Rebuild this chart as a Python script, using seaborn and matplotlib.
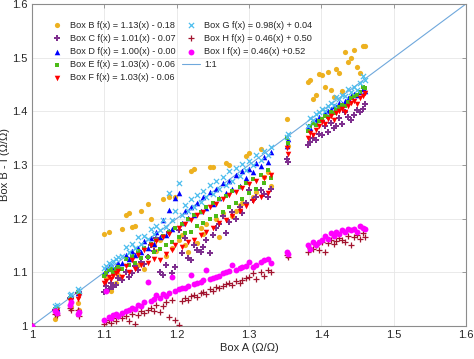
import pandas as pd
import matplotlib
matplotlib.use("Agg")
import matplotlib.pyplot as plt
import seaborn as sns

# Box A values (shared x for every box)
box_a = [
    1.000,
    1.032, 1.034,
    1.052, 1.054,
    1.063, 1.065,
    1.100, 1.103, 1.106, 1.109, 1.112, 1.116, 1.119,
    1.125, 1.130, 1.134, 1.138, 1.142, 1.147, 1.151, 1.155, 1.160, 1.164,
    1.168, 1.172, 1.177, 1.181, 1.185, 1.190, 1.194, 1.198,
    1.203, 1.207, 1.211, 1.216, 1.220, 1.224, 1.228, 1.233, 1.237, 1.241,
    1.246, 1.250, 1.255, 1.259, 1.264, 1.268, 1.273, 1.277, 1.282, 1.287,
    1.291, 1.296, 1.300,
    1.305, 1.310, 1.316, 1.321, 1.326, 1.331,
    1.352, 1.354,
    1.381, 1.384, 1.388, 1.392, 1.397, 1.401, 1.405, 1.409, 1.413, 1.417,
    1.421, 1.425, 1.429, 1.433, 1.437, 1.441, 1.445, 1.449, 1.453, 1.457, 1.460,
]

box_b = [
    1.000,
    1.013, 1.022,
    1.040, 1.036,
    1.043, 1.030,
    1.172, 1.090, 1.175, 1.066, 1.100, 1.080, 1.095,
    1.180, 1.207, 1.210, 1.185, 1.187, 1.114, 1.215, 1.106, 1.228, 1.200,
    1.150, 1.140, 1.160, 1.237, 1.130, 1.240, 1.145, 1.240,
    1.160, 1.170, 1.150, 1.138, 1.288, 1.293, 1.155, 1.182, 1.172, 1.190,
    1.297, 1.297, 1.200, 1.165, 1.210, 1.304, 1.300, 1.205, 1.215, 1.225,
    1.230, 1.316, 1.323,
    1.240, 1.250, 1.330, 1.278, 1.286, 1.260,
    1.385, 1.335,
    1.454, 1.459, 1.422, 1.430, 1.470, 1.467, 1.446, 1.474, 1.440, 1.426,
    1.478, 1.472, 1.437, 1.510, 1.491, 1.500, 1.514, 1.482, 1.472, 1.521, 1.521,
]

box_c = [
    1.000,
    1.030, 1.028,
    1.052, 1.054,
    1.062, 1.064,
    1.064, 1.074, 1.068, 1.080, 1.072, 1.077, 1.090,
    1.086, 1.100, 1.092, 1.098, 1.112, 1.104, 1.120, 1.116, 1.128, 1.151,
    1.140, 1.164, 1.100, 1.095, 1.114, 1.176, 1.099, 1.110,
    1.179, 1.136, 1.164, 1.127, 1.123, 1.150, 1.142, 1.138, 1.148, 1.160,
    1.136, 1.170, 1.182, 1.190, 1.204, 1.174, 1.194, 1.213, 1.200, 1.222,
    1.210, 1.230, 1.254,
    1.235, 1.241, 1.254, 1.246, 1.241, 1.256,
    1.312, 1.305,
    1.338, 1.342, 1.350, 1.346, 1.358, 1.355, 1.372, 1.362, 1.379, 1.368,
    1.372, 1.388, 1.376, 1.398, 1.390, 1.384, 1.394, 1.403, 1.398, 1.405, 1.413,
]

box_d = [
    1.000,
    1.036, 1.034,
    1.057, 1.055,
    1.062, 1.064,
    1.098, 1.104, 1.110, 1.114, 1.106, 1.112, 1.118,
    1.118, 1.132, 1.124, 1.140, 1.133, 1.145, 1.138, 1.158, 1.146, 1.163,
    1.152, 1.175, 1.166, 1.198, 1.170, 1.217, 1.181, 1.239,
    1.248, 1.192, 1.214, 1.201, 1.222, 1.206, 1.230, 1.215, 1.241, 1.219,
    1.249, 1.228, 1.256, 1.238, 1.266, 1.247, 1.270, 1.256, 1.282, 1.261,
    1.288, 1.276, 1.293,
    1.286, 1.304, 1.298, 1.314, 1.305, 1.324,
    1.336, 1.349,
    1.372, 1.368, 1.380, 1.384, 1.390, 1.385, 1.396, 1.400, 1.404, 1.410,
    1.408, 1.416, 1.414, 1.420, 1.424, 1.428, 1.432, 1.430, 1.436, 1.441, 1.438,
]

box_e = [
    1.000,
    1.032, 1.034,
    1.052, 1.050,
    1.064, 1.062,
    1.094, 1.098, 1.104, 1.108, 1.101, 1.106, 1.110,
    1.106, 1.124, 1.114, 1.130, 1.117, 1.139, 1.126, 1.145, 1.128, 1.153,
    1.137, 1.160, 1.144, 1.167, 1.151, 1.175, 1.156, 1.183,
    1.165, 1.190, 1.173, 1.199, 1.176, 1.207, 1.186, 1.213, 1.191, 1.222,
    1.200, 1.229, 1.205, 1.237, 1.213, 1.243, 1.221, 1.251, 1.229, 1.259,
    1.237, 1.266, 1.247,
    1.274, 1.256, 1.282, 1.266, 1.290, 1.276,
    1.350, 1.340,
    1.364, 1.372, 1.378, 1.374, 1.382, 1.386, 1.392, 1.390, 1.398, 1.396,
    1.404, 1.408, 1.412, 1.410, 1.418, 1.425, 1.428, 1.430, 1.436, 1.446, 1.444,
]

box_f = [
    1.000,
    1.028, 1.030,
    1.046, 1.048,
    1.050, 1.056,
    1.080, 1.084, 1.091, 1.088, 1.094, 1.098, 1.102,
    1.092, 1.112, 1.100, 1.122, 1.107, 1.133, 1.113, 1.142, 1.118, 1.150,
    1.125, 1.158, 1.123, 1.166, 1.134, 1.172, 1.141, 1.150,
    1.182, 1.148, 1.190, 1.157, 1.198, 1.161, 1.206, 1.169, 1.213, 1.176,
    1.221, 1.183, 1.228, 1.191, 1.236, 1.198, 1.244, 1.205, 1.250, 1.215,
    1.258, 1.224, 1.264,
    1.232, 1.270, 1.240, 1.276, 1.248, 1.282,
    1.331, 1.320,
    1.350, 1.360, 1.356, 1.366, 1.372, 1.380, 1.376, 1.386, 1.392, 1.384,
    1.396, 1.400, 1.404, 1.398, 1.410, 1.416, 1.420, 1.414, 1.424, 1.428, 1.435,
]

box_g = [
    1.000,
    1.038, 1.040,
    1.058, 1.060,
    1.068, 1.066,
    1.108, 1.112, 1.118, 1.114, 1.121, 1.124, 1.128,
    1.131, 1.148, 1.138, 1.152, 1.146, 1.165, 1.153, 1.168, 1.162, 1.180,
    1.171, 1.186, 1.178, 1.197, 1.185, 1.248, 1.198, 1.214,
    1.267, 1.206, 1.226, 1.214, 1.236, 1.222, 1.244, 1.231, 1.252, 1.240,
    1.262, 1.246, 1.270, 1.256, 1.278, 1.263, 1.288, 1.270, 1.294, 1.280,
    1.302, 1.290, 1.308,
    1.300, 1.318, 1.310, 1.326, 1.318, 1.333,
    1.352, 1.358,
    1.372, 1.388, 1.384, 1.395, 1.398, 1.405, 1.400, 1.410, 1.416, 1.412,
    1.426, 1.422, 1.430, 1.428, 1.441, 1.436, 1.445, 1.440, 1.452, 1.465, 1.458,
]

box_h = [
    1.000,
    1.022, 1.020,
    1.033, 1.030,
    1.030, 1.018,
    1.004, 1.008, 1.012, 1.006, 1.015, 1.010, 1.018,
    1.014, 1.018, 1.010, 1.022, 1.004, 1.020, 1.028, 1.024, 1.030, 1.034,
    1.028, 1.040, 1.026, 1.038, 1.044, 1.017, 1.048, 1.011,
    1.002, 1.046, 1.052, 1.048, 1.056, 1.058, 1.054, 1.062, 1.064, 1.060,
    1.068, 1.066, 1.072, 1.070, 1.074, 1.078, 1.080, 1.076, 1.084, 1.080,
    1.086, 1.090, 1.092,
    1.098, 1.088, 1.100, 1.094, 1.104, 1.100,
    1.132, 1.128,
    1.138, 1.146, 1.144, 1.150, 1.142, 1.156, 1.138, 1.154, 1.160, 1.152,
    1.158, 1.164, 1.160, 1.156, 1.168, 1.150, 1.166, 1.170, 1.162, 1.174, 1.165,
]

box_i = [
    1.000,
    1.028, 1.024,
    1.040, 1.044,
    1.022, 1.026,
    1.011, 1.065, 1.017, 1.014, 1.020, 1.022, 1.018,
    1.024, 1.028, 1.030, 1.034, 1.032, 1.040, 1.038, 1.044, 1.082, 1.046,
    1.050, 1.058, 1.052, 1.060, 1.056, 1.062, 1.092, 1.066,
    1.068, 1.071, 1.070, 1.074, 1.095, 1.078, 1.080, 1.082, 1.086, 1.105,
    1.088, 1.090, 1.092, 1.094, 1.098, 1.100, 1.102, 1.114, 1.104, 1.108,
    1.110, 1.112, 1.120,
    1.110, 1.114, 1.120, 1.122, 1.125, 1.118,
    1.138, 1.134,
    1.151, 1.144, 1.157, 1.150, 1.157, 1.160, 1.168, 1.162, 1.173, 1.168,
    1.176, 1.172, 1.178, 1.176, 1.181, 1.178, 1.180, 1.176, 1.187, 1.183, 1.180,
]

labels = [
    "Box B f(x) = 1.13(x) - 0.18",
    "Box C f(x) = 1.01(x) - 0.07",
    "Box D f(x) = 1.00(x) - 0.00",
    "Box E f(x) = 1.03(x) - 0.06",
    "Box F f(x) = 1.03(x) - 0.06",
    "Box G f(x) = 0.98(x) + 0.04",
    "Box H f(x) = 0.46(x) + 0.50",
    "Box I f(x) = 0.46(x) +0.52",
]
ref_line = [1.0, 1.6]
ticks = [1.0, 1.1, 1.2, 1.3, 1.4, 1.5, 1.6]
tick_labels = ["1", "1.1", "1.2", "1.3", "1.4", "1.5", "1.6"]

series = [box_b, box_c, box_d, box_e, box_f, box_g, box_h, box_i]
colors = ["#EDB120", "#7E2F8E", "#0000FF", "#4CBB17", "#FF0000", "#4DBEEE", "#A2142F", "#FF00FF"]
markers = ["o", "P", "^", "s", "v", "x", "+", "o"]
sizes = [14, 20, 16, 12, 16, 14, 16, 18]

sns.set_style("white")
plt.rcParams["font.family"] = ["Liberation Sans", "DejaVu Sans"]

fig = plt.figure(figsize=(4.74, 3.59), dpi=100)
ax = fig.add_axes([0.0675, 0.092, 0.9155, 0.897])

for ys, lab, col, mk, sz in zip(series, labels, colors, markers, sizes):
    df = pd.DataFrame({"Box A": box_a, "y": ys})
    kw = dict(linewidth=0.9) if mk in ("x", "+") else dict(linewidth=0)
    sns.scatterplot(data=df, x="Box A", y="y", ax=ax, color=col, marker=mk,
                    s=sz, label=lab, zorder=3, **kw)

ax.plot(ref_line, ref_line, color="#6FA8DC", linewidth=0.8, label="1:1", zorder=2)

ax.set_xlim(1.0, 1.6)
ax.set_ylim(1.0, 1.6)
ax.set_xticks(ticks)
ax.set_xticklabels(tick_labels)
ax.set_yticks(ticks)
ax.set_yticklabels(tick_labels)
ax.tick_params(direction="in", length=3, width=0.6, colors="#8c8c8c",
               labelcolor="#262626", labelsize=8, top=True, right=True, pad=3)
ax.grid(True, color="#e6e6e6", linewidth=0.6)
for sp in ax.spines.values():
    sp.set_color("#8c8c8c")
    sp.set_linewidth(0.8)
ax.set_xlabel("Box A (Ω/Ω)", fontsize=8, color="#262626", labelpad=2)
ax.set_ylabel("Box B - I (Ω/Ω)", fontsize=8, color="#262626", labelpad=2)

ax.legend(loc="upper left", bbox_to_anchor=(0.037, 0.948), ncol=2, frameon=False,
          fontsize=6.6, borderaxespad=0, borderpad=0, labelspacing=0.45,
          handlelength=2.0, handletextpad=0.4, columnspacing=0.7, markerscale=1.0)

fig.savefig("out.png", dpi=100)
